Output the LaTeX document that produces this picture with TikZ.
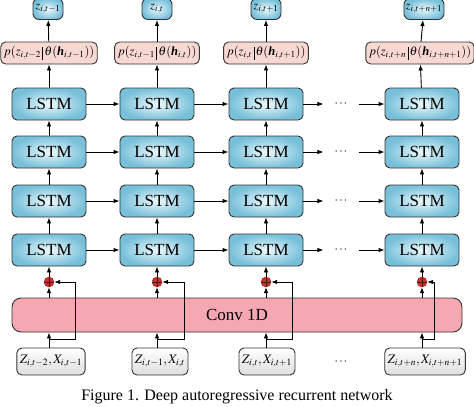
\documentclass[tikz,border=0pt]{standalone}
\usepackage{mathptmx}
\usepackage{fontspec}
\setmainfont{Liberation Serif}
\usetikzlibrary{arrows.meta}

\definecolor{lstmlight}{RGB}{236,249,252}
\definecolor{lstmdark}{RGB}{120,192,218}
\definecolor{pfill}{RGB}{248,216,210}
\definecolor{convfill}{RGB}{245,168,178}
\definecolor{infill}{RGB}{222,222,222}
\definecolor{plusred}{RGB}{205,45,45}

\newcommand{\hb}{\mbox{\bfseries\itshape h}}
\newcommand{\givenbar}{\,\vrule height 9pt depth 4pt width 0.6pt\,}

\begin{document}
\begin{tikzpicture}
[x=1pt, y=-1pt,
ar/.style={-{Latex[length=6pt,width=4.5pt]}, line width=0.9pt},
mynode/.style={
  draw=black!80, line width=0.9pt, rounded corners=5pt,
  align=center, inner sep=2pt
  }
]

\tikzstyle{lstm}  =  [mynode, minimum width=74pt, minimum height=32pt,
  inner color=lstmlight, outer color=lstmdark, font=\rmfamily\fontsize{17}{17}\selectfont]
\tikzstyle{pbox}  =  [mynode, fill=pfill, minimum height=22pt, inner xsep=3pt,
  font=\fontsize{12.5}{12.5}\selectfont]
\tikzstyle{zbox}  =  [mynode, rounded corners=6pt, minimum width=30pt, minimum height=21pt,
  inner color=lstmlight, outer color=lstmdark, font=\fontsize{12}{12}\selectfont]
\tikzstyle{inbox} =  [mynode, minimum height=27pt, inner xsep=3pt,
  top color=white, bottom color=infill, font=\fontsize{13}{13}\selectfont]
\tikzstyle{plus}  =  [circle, draw=plusred!70!black, fill=plusred, minimum size=10pt, inner sep=0pt,
  path picture={\draw[plusred!40!black, line width=0.6pt]
    (path picture bounding box.north) -- (path picture bounding box.south)
    (path picture bounding box.west) -- (path picture bounding box.east);}]
\tikzstyle{dotnode} = [inner xsep=11pt, inner ysep=0pt, font=\fontsize{12}{12}\selectfont]

\useasboundingbox (0,0) rectangle (474,407);

% LSTM grid and adders
\foreach \c/\x in {a/49,b/157,c/266,d/422}{
  \foreach \r/\y in {1/104,2/152,3/201,4/250}
    \node[lstm] (\c\r) at (\x,\y) {LSTM};
  \node[plus] (s\c) at (\x,282) {};
}

% outputs
\node[pbox] (pa) at (49,53) {$p(z_{i,t-2}\givenbar\theta(\hb_{i,t-1}))$};
\node[pbox] (pb) at (157,53) {$p(z_{i,t-1}\givenbar\theta(\hb_{i,t}))$};
\node[pbox] (pc) at (266,53) {$p(z_{i,t}\givenbar\theta(\hb_{i,t+1}))$};
\node[pbox] (pd) at (420,53) {$p(z_{i,t+n}\givenbar\theta(\hb_{i,t+n+1}))$};

\node[zbox] (za) at (48,9) {$z_{i,t-1}$};
\node[zbox] (zb) at (157,9) {$z_{i,t}$};
\node[zbox] (zc) at (266,9) {$z_{i,t+1}$};
\node[zbox] (zd) at (424,9) {$z_{i,t+n+1}$};

% conv and inputs
\node[mynode, rounded corners=9pt, fill=convfill, minimum width=450pt, minimum height=34pt,
  font=\fontsize{17}{17}\selectfont] (conv) at (237,315) {Conv 1D};

\node[inbox] (ina) at (51,361.5) {$Z_{i,t-2},X_{i,t-1}$};
\node[inbox] (inb) at (160,361.5) {$Z_{i,t-1},X_{i,t}$};
\node[inbox] (inc) at (267,361.5) {$Z_{i,t},X_{i,t+1}$};
\node[inbox] (ind) at (425,361.5) {$Z_{i,t+n},X_{i,t+n+1}$};
\node[dotnode] (indots) at (341,361.5) {$\cdots$};

%edges
\foreach \c in {a,b,c,d}{
  \draw[ar] (\c4) -- (\c3);
  \draw[ar] (\c3) -- (\c2);
  \draw[ar] (\c2) -- (\c1);
  \draw[ar] (\c1) -- (p\c);
  \draw[ar] (p\c) -- (z\c);
  \draw[ar] (s\c) -- (\c4);
  \draw[ar] (conv.north -| s\c) -- (s\c);
  \draw[ar] (in\c.north -| s\c) -- (conv.south -| s\c);
}

\foreach \r/\y in {1/104,2/152,3/201,4/250}{
  \node[dotnode] (dot\r) at (341,\y) {$\cdots$};
  \draw[ar] (a\r) -- (b\r);
  \draw[ar] (b\r) -- (c\r);
  \draw[ar] (c\r) -- (dot\r);
  \draw[ar] (dot\r) -- (d\r);
}

% skip paths
\foreach \c/\x/\o in {a/49/26,b/157/27,c/266/26,d/422/12}{
  \coordinate (k\c) at (\x,339);
  \coordinate (j\c) at (\x+\o,339);
  \draw[ar] (k\c) -- (j\c) |- (s\c);
}

\node[font=\fontsize{16}{16}\selectfont] (caption) at (237,397)
  {Figure 1. Deep autoregressive recurrent network};

\end{tikzpicture}
\end{document}
